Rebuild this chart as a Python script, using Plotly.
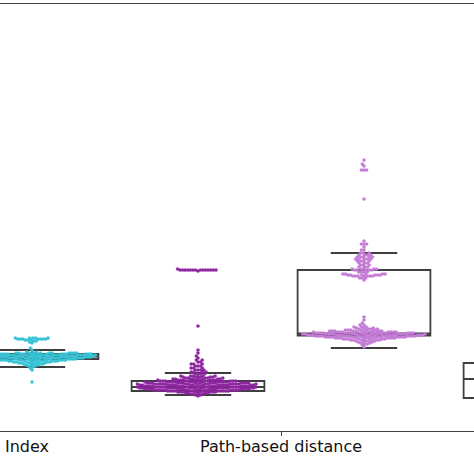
import numpy as np
import plotly.graph_objects as go

# ---------------- data ----------------
categories = ["Index", "Path-based distance"]
group_pos = [0.0, 1.0, 2.0]          # category centres
hue_offset = [-0.25, 0.25]           # two hues per category

# swarm data: distinct values and how many observations share each
cyan_vals = [0.93, 0.92, 0.91, 0.90, 0.89, 0.88, 0.83, 0.81, 0.79,
             0.78, 0.77, 0.76, 0.75, 0.74, 0.73, 0.72, 0.71, 0.70, 0.69,
             0.68, 0.67, 0.66, 0.65, 0.64, 0.63, 0.61, 0.49]
cyan_cnt = [5, 7, 3, 2, 1, 1, 1, 1, 2,
            16, 17, 17, 17, 17, 16, 14, 12, 9, 7,
            5, 4, 3, 2, 1, 1, 1, 1]

dark_vals = [1.62, 1.61, 1.60, 1.05, 0.81, 0.78, 0.75, 0.73, 0.71, 0.69,
             0.67, 0.65, 0.63, 0.61, 0.59, 0.57, 0.55, 0.54, 0.53, 0.52,
             0.51, 0.50, 0.49, 0.48, 0.47, 0.46, 0.45, 0.44, 0.43, 0.42,
             0.41, 0.40, 0.39, 0.38, 0.37, 0.36, 0.35]
dark_cnt = [1, 14, 1, 1, 1, 1, 1, 1, 2, 2,
            3, 3, 3, 4, 4, 4, 5, 5, 6, 7,
            9, 11, 13, 15, 16, 16, 16, 16, 16, 16,
            14, 12, 8, 5, 3, 2, 1]

light_vals = [2.71, 2.67, 2.65, 2.61, 2.32, 1.90, 1.87, 1.84, 1.81, 1.78,
              1.76, 1.74, 1.72, 1.70, 1.68, 1.66, 1.64, 1.62, 1.61, 1.59,
              1.57, 1.56, 1.55, 1.53, 1.51,
              1.14, 1.11, 1.08, 1.06, 1.04, 1.03, 1.02, 1.01, 1.00, 0.99,
              0.98, 0.97, 0.96, 0.95, 0.94, 0.93, 0.92, 0.91, 0.90, 0.89,
              0.88, 0.87, 0.86, 0.84]
light_cnt = [1, 1, 1, 3, 1, 1, 3, 1, 2, 3,
             4, 5, 5, 4, 3, 3, 3, 5, 5, 4,
             5, 6, 7, 3, 1,
             1, 1, 1, 2, 3, 3, 4, 6, 9, 12,
             15, 17, 17, 16, 14, 11, 8, 6, 4, 3,
             2, 2, 1, 1]

# box statistics: (group index, hue index, q1, median, q3, lower whisker, upper whisker)
box_group = [0, 1, 1, 2]
box_hue = [1, 0, 1, 0]
box_q1 = [0.72, 0.40, 0.955, 0.33]
box_med = [0.745, 0.44, 0.975, 0.52]
box_q3 = [0.77, 0.50, 1.61, 0.68]
box_lo = [0.64, 0.36, 0.83, 0.18]
box_hi = [0.81, 0.58, 1.78, 0.95]

cyan = "#36c3d6"
dark_purple = "#8e25a0"
light_purple = "#c47cd6"
edge_gray = "#3f3f3f"

# ---------------- helpers ----------------
PX_PER_X = 332.0   # pixels per x unit
PX_PER_Y = 100.0   # pixels per y unit
D = 2.6            # marker spacing in px


def beeswarm(values, center):
    vals = np.asarray(values, float)
    order = np.argsort(vals, kind="stable")
    px = []
    py = []
    out = np.empty(len(vals))
    for idx in order:
        y = vals[idx] * PX_PER_Y
        if px:
            ax = np.array(px)
            ay = np.array(py)
            m = np.abs(ay - y) < D
            nx, ny = ax[m], ay[m]
        else:
            nx, ny = np.array([]), np.array([])
        if len(nx) == 0:
            c = 0.0
        else:
            dx = np.sqrt(np.maximum(D * D - (ny - y) ** 2, 0))
            cands = np.concatenate([[0.0], nx - dx, nx + dx])
            cands = cands[np.argsort(np.abs(cands), kind="stable")]
            dist2 = (cands[:, None] - nx[None, :]) ** 2 + (y - ny[None, :]) ** 2
            ok = np.all(dist2 >= D * D - 1e-6, axis=1)
            c = cands[np.argmax(ok)]
        px.append(c)
        py.append(y)
        out[idx] = center + c / PX_PER_X
    return out


fig = go.Figure()

# boxes
for g, h, q1, md, q3, lo, hi in zip(box_group, box_hue, box_q1, box_med, box_q3, box_lo, box_hi):
    fig.add_trace(go.Box(
        x=[group_pos[g] + hue_offset[h]], q1=[q1], median=[md], q3=[q3],
        lowerfence=[lo], upperfence=[hi], width=0.4, whiskerwidth=0.5,
        fillcolor="rgba(255,255,255,0)", line=dict(color=edge_gray, width=1.8),
        boxpoints=False, hoverinfo="skip", showlegend=False))

# swarms
for vals, cnt, g, h, col in [
        (cyan_vals, cyan_cnt, 0, 1, cyan),
        (dark_vals, dark_cnt, 1, 0, dark_purple),
        (light_vals, light_cnt, 1, 1, light_purple)]:
    y = np.repeat(np.array(vals, float), cnt)
    x = beeswarm(y, group_pos[g] + hue_offset[h])
    fig.add_trace(go.Scatter(
        x=x, y=y, mode="markers",
        marker=dict(size=3.2, color=col, line=dict(width=0.3, color=col)),
        hoverinfo="skip", showlegend=False))

x_left = 1 - 281 / PX_PER_X
x_right = x_left + 474 / PX_PER_X

fig.update_layout(
    width=474, height=474,
    margin=dict(l=0, r=0, t=4, b=43),
    paper_bgcolor="white", plot_bgcolor="white",
    boxmode="overlay",
    font=dict(family="DejaVu Sans", size=16, color="#111111"),
    xaxis=dict(range=[x_left, x_right], tickvals=[group_pos[1]], ticktext=[categories[1]],
               showgrid=False, zeroline=False, showline=True, mirror=True,
               linecolor="#444444", linewidth=1.3,
               ticks="outside", ticklen=4, tickwidth=1.2, tickcolor="#444444",
               ticklabelstandoff=-3,
               tickfont=dict(family="DejaVu Sans", size=16, color="#111111")),
    yaxis=dict(range=[0, 4.27], showgrid=False, zeroline=False, showline=False,
               showticklabels=False, ticks=""),
    annotations=[dict(text=categories[0], xref="paper", yref="paper",
                      x=51 / 474, y=-(446 - 431) / 427, xanchor="right", yanchor="middle",
                      showarrow=False,
                      font=dict(family="DejaVu Sans", size=16, color="#111111"))],
)

fig.write_html("out.html")
